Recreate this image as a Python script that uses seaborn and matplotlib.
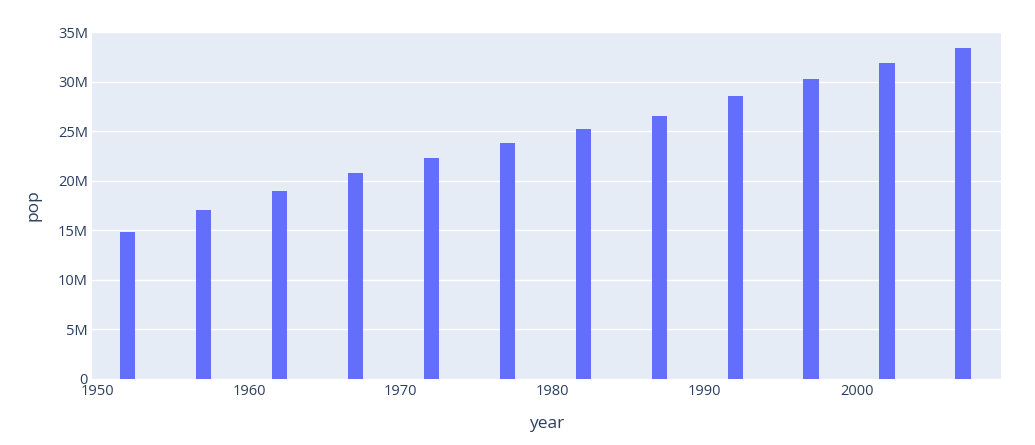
import numpy as np
import pandas as pd
import matplotlib
matplotlib.use("Agg")
import matplotlib.pyplot as plt
import seaborn as sns
from matplotlib.ticker import FuncFormatter

years = [1952, 1957, 1962, 1967, 1972, 1977, 1982, 1987, 1992, 1997, 2002, 2007]
pop = [14785584, 17010154, 18985849, 20819767, 22284500, 23796400,
       25201900, 26549700, 28523502, 30305843, 31902268, 33390141]

df = pd.DataFrame({"year": years, "pop": pop})

sns.set_theme(style="darkgrid", rc={"axes.facecolor": "#E5ECF6", "grid.color": "white"})
plt.rcParams["font.family"] = ["Open Sans", "DejaVu Sans"]
txt = "#2a3f5f"

fig = plt.figure(figsize=(10.35, 4.45), dpi=100)
ax = fig.add_axes([92/1035, 1 - 379/445, 909/1035, 347/445])
sns.barplot(data=df, x="year", y="pop", native_scale=True, width=0.2,
            color="#636EFA", saturation=1, linewidth=0, ax=ax)
ax.set_xlim(1949.67, 2009.5)
ax.set_ylim(0, 35e6)
ax.set_yticks(np.arange(0, 35e6 + 1, 5e6))
ax.set_xticks([1950, 1960, 1970, 1980, 1990, 2000])
ax.yaxis.set_major_formatter(FuncFormatter(lambda v, p: "0" if v == 0 else f"{v/1e6:.0f}M"))
ax.grid(axis="x", visible=False)
ax.grid(axis="y", color="white", linewidth=1)
for s in ax.spines.values():
    s.set_visible(False)
ax.tick_params(colors=txt, labelsize=10.5, length=0)
ax.tick_params(axis="y", pad=3)
ax.set_xlabel("year", color=txt, fontsize=12.5, labelpad=12)
ax.set_ylabel("pop", color=txt, fontsize=12.5, labelpad=12)
fig.savefig("out.png", dpi=100)
